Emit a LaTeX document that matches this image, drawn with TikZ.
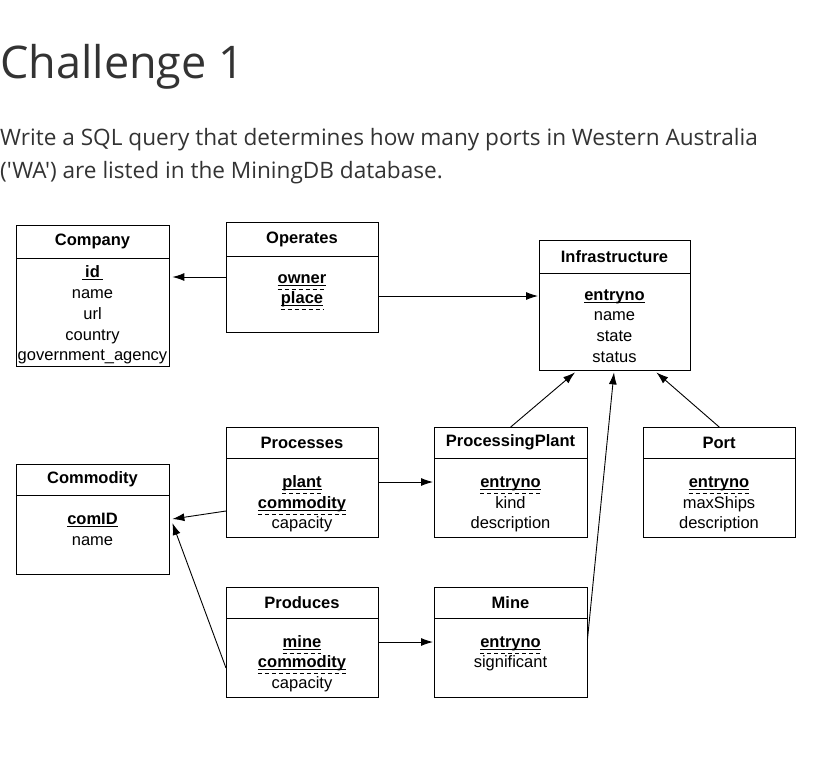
\documentclass[tikz,border=0pt]{standalone}
\usepackage{fontspec}
\setmainfont{Liberation Sans}
\newfontfamily\opensans{Open Sans}
\usetikzlibrary{arrows.meta,calc}
\definecolor{txt}{HTML}{333333}
\begin{document}
\begin{tikzpicture}[x=1pt,y=-1pt,
  ttl/.style={font=\fontsize{16.5}{19}\selectfont\bfseries},
  attx/.style={font=\fontsize{16.5}{19}\selectfont,inner sep=0},
  pkx/.style={attx,font=\fontsize{16.5}{19}\selectfont\bfseries},
  con/.style={line width=0.9pt,-{Latex[length=12pt,width=8pt]}},
  ul/.style={line width=0.9pt},
  dl/.style={line width=0.9pt,dash pattern=on 4pt off 3pt}]
\useasboundingbox (0,0) rectangle (835,772);
\node[anchor=base west,inner sep=0,text=txt,font=\opensans\fontsize{45}{52}\selectfont] (title) at (0,78) {Challenge 1};
\node[anchor=base west,inner sep=0,text=txt,font=\opensans\fontsize{22.6}{26}\selectfont] (p1) at (0,145) {Write a SQL query that determines how many ports in Western Australia};
\node[anchor=base west,inner sep=0,text=txt,font=\opensans\fontsize{22.6}{26}\selectfont] (p2) at (0,178) {('WA') are listed in the MiningDB database.};

\newcommand\ebox[7]{%
  \draw[line width=0.9pt] (#2,#3) rectangle (#4,#5);
  \draw[line width=0.9pt] (#2,#6) -- (#4,#6);
  \node[draw=none,inner sep=0,anchor=north west,minimum width=#4-#2,minimum height=#5-#3] (#1) at (#2,#3) {};
  \node[ttl] (#1t) at ({(#2+#4)/2},{(#3+#6)/2}) {#7};}
\newcommand\attr[4]{\node[attx,anchor=base] (#1) at (#2,#3) {#4};}
\newcommand\key[5]{%
  \node[pkx,anchor=base] (#1) at (#2,#3) {#4};
  \draw[ul] ([yshift=-2.5pt]#1.base west) -- ([yshift=-2.5pt]#1.base east);
  \ifnum#5=1 \draw[dl] ([yshift=-6pt]#1.base west) -- ([yshift=-6pt]#1.base east);\fi}

\ebox{company}{16}{225}{169}{366}{258}{Company}
\key{cid}{92.5}{277}{\,id\,}{0}
\attr{cname}{92.5}{298}{name}
\attr{curl}{92.5}{319}{url}
\attr{ccountry}{92.5}{340}{country}
\attr{cgov}{92.5}{360}{government\_agency}

\ebox{operates}{226}{222}{378}{332}{256}{Operates}
\key{oowner}{302}{283}{owner}{1}
\key{oplace}{302}{303}{place}{1}

\ebox{infra}{539}{240}{690}{370}{273}{Infrastructure}
\key{ientry}{614.5}{300}{entryno}{0}
\attr{iname}{614.5}{320}{name}
\attr{istate}{614.5}{341}{state}
\attr{istatus}{614.5}{362}{status}

\ebox{processes}{226}{427}{378}{537}{458}{Processes}
\key{pplant}{302}{487}{plant}{1}
\key{pcomm}{302}{508}{commodity}{1}
\attr{pcap}{302}{528}{capacity}

\ebox{pp}{434}{427}{587}{537}{458}{ProcessingPlant}
\key{ppentry}{510.5}{487}{entryno}{1}
\attr{ppkind}{510.5}{508}{kind}
\attr{ppdesc}{510.5}{528}{description}

\ebox{port}{643}{427}{795}{537}{458}{Port}
\key{ptentry}{719}{487}{entryno}{1}
\attr{ptmax}{719}{508}{maxShips}
\attr{ptdesc}{719}{528}{description}

\ebox{commodity}{16}{464}{169}{574}{495}{Commodity}
\key{ccom}{92.5}{524}{comID}{0}
\attr{ccname}{92.5}{545}{name}

\ebox{produces}{226}{587}{378}{697}{618}{Produces}
\key{prmine}{302}{647}{mine}{1}
\key{prcomm}{302}{667}{commodity}{1}
\attr{prcap}{302}{688}{capacity}

\ebox{mine}{434}{587}{587}{697}{618}{Mine}
\key{mentry}{510.5}{647}{entryno}{1}
\attr{msig}{510.5}{667}{significant}

\draw[con] ($(operates.north west)+(0,55)$) -- ($(company.north east)+(3,52)$);
\draw[con] ($(operates.north east)+(0,74)$) -- ($(infra.north west)+(-1,56)$);
\draw[con] ($(processes.north east)+(0,55)$) -- ($(pp.north west)+(-1,55)$);
\draw[con] ($(processes.north west)+(0,84)$) -- ($(commodity.north east)+(3,55)$);
\draw[con] ($(produces.north west)+(0,81)$) -- ($(commodity.north east)+(3,59)$);
\draw[con] ($(produces.north east)+(0,55)$) -- ($(mine.north west)+(-1,55)$);
\draw[con] (pp.north) -- ($(infra.south west)+(36,2)$);
\draw[con] ($(mine.north east)+(0,53)$) -- ($(infra.south west)+(75,2)$);
\draw[con] (port.north) -- ($(infra.south east)+(-34,2)$);
\end{tikzpicture}
\end{document}
